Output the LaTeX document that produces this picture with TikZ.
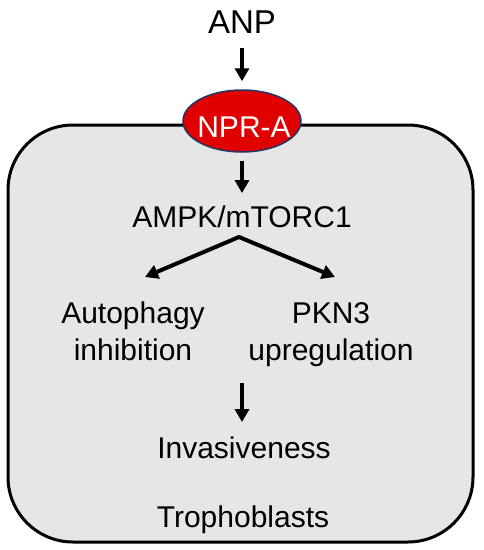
\documentclass[tikz,border=0pt]{standalone}
\usepackage{fontspec}
\setmainfont{Liberation Sans}
\usetikzlibrary{arrows.meta,shapes.geometric}
\definecolor{cellgray}{HTML}{E6E6E6}
\definecolor{recred}{HTML}{E00000}
\definecolor{recnavy}{HTML}{1F3864}
\tikzset{
  lbl/.style={inner sep=0pt, anchor=base, font=\fontsize{30}{37}\selectfont, align=center},
  arr/.style={line width=4pt, -{Triangle[length=13pt,width=14pt]}},
  cellbox/.style={draw=black, line width=3pt, fill=cellgray, rounded corners=65pt},
  receptor/.style={ellipse, draw=recnavy, line width=1.5pt, fill=recred, minimum width=118pt, minimum height=62pt, inner sep=0pt}
}
\begin{document}
\begin{tikzpicture}[x=1pt,y=1pt]
\useasboundingbox (0,0) rectangle (483,-550);
\draw[cellbox] (8,-125) rectangle (473,-542);
\node[receptor] (npr) at (242,-121) {};
\node[lbl, text=white] (nprt) at (244,-137) {NPR-A};
\node[lbl, font=\fontsize{33}{37}\selectfont] (anp) at (242,-33) {ANP};
\node[lbl] (ampk) at (242,-227) {AMPK/mTORC1};
\node[lbl] (auto) at (133,-360) {Autophagy\\inhibition};
\node[lbl] (pkn) at (331,-360) {PKN3\\upregulation};
\node[lbl] (inv) at (244,-458) {Invasiveness};
\node[lbl] (tro) at (243,-527) {Trophoblasts};
\coordinate (split) at (239,-237);
\coordinate (autotip) at (145,-277);
\coordinate (pkntip) at (335,-277);
\coordinate (merge) at (242,-383);
\draw[arr, shorten <=15pt, shorten >=8pt] (anp.south) -- (npr.north);
\draw[arr, shorten <=8pt, shorten >=12pt] (npr.south) -- (ampk.north);
\draw[arr, line cap=round] (split) -- (autotip);
\draw[arr, line cap=round] (split) -- (pkntip);
\draw[arr, shorten >=14pt] (merge) -- (merge |- inv.north);
\end{tikzpicture}
\end{document}
